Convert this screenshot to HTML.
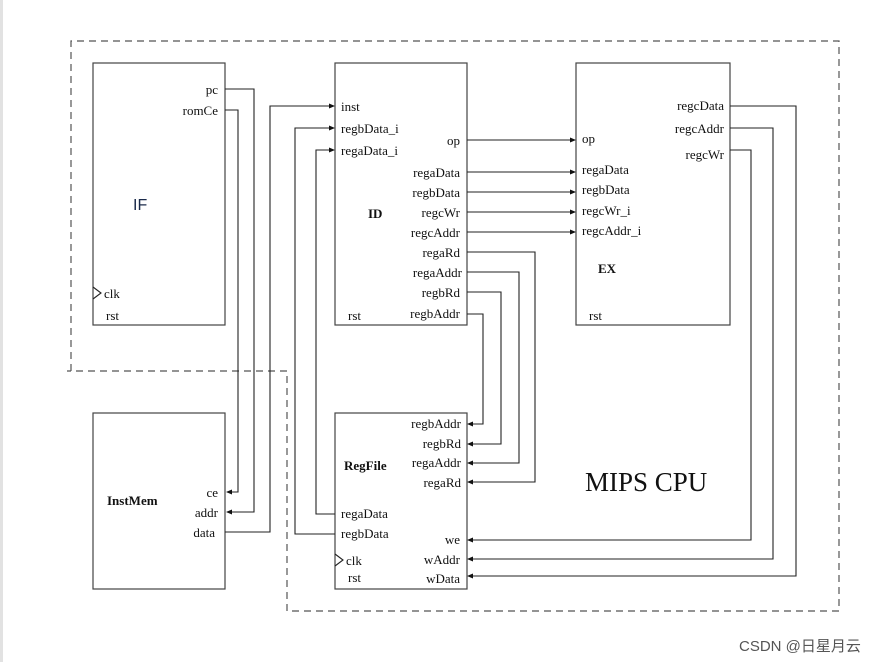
<!DOCTYPE html>
<html><head><meta charset="utf-8"><style>
body{margin:0;background:#fff;width:889px;height:662px;overflow:hidden}
svg{display:block}
text{font-family:"Liberation Serif",serif;font-size:13px;fill:#111}
.r{text-anchor:end}
</style></head><body>
<svg width="889" height="662" viewBox="0 0 889 662">
<defs><marker id="a" markerWidth="6" markerHeight="6" refX="5" refY="3" orient="auto" markerUnits="userSpaceOnUse"><path d="M0,0.5 L6,3 L0,5.5z" fill="#111"/></marker></defs>
<rect x="0" y="0" width="3" height="662" fill="#e2e2e2"/>
<g fill="none" stroke="#555" stroke-width="1.2" stroke-dasharray="7,5">
<path d="M71,371 V41 H839 V611 H287 V371 H67"/>
</g>
<g fill="#fff" stroke="#444" stroke-width="1.2">
<rect x="93" y="63" width="132" height="262"/>
<rect x="335" y="63" width="132" height="262"/>
<rect x="576" y="63" width="154" height="262"/>
<rect x="93" y="413" width="132" height="176"/>
<rect x="335" y="413" width="132" height="176"/>
</g>
<g fill="none" stroke="#222" stroke-width="1.1">
<path d="M225,89 H254 V512 H227" marker-end="url(#a)"/>
<path d="M225,110 H238 V492 H227" marker-end="url(#a)"/>
<path d="M225,532 H270 V106 H334" marker-end="url(#a)"/>
<path d="M335,534 H295 V128 H334" marker-end="url(#a)"/>
<path d="M335,514 H316 V150 H334" marker-end="url(#a)"/>
<path d="M467,140 H575" marker-end="url(#a)"/>
<path d="M467,172 H575" marker-end="url(#a)"/>
<path d="M467,192 H575" marker-end="url(#a)"/>
<path d="M467,212 H575" marker-end="url(#a)"/>
<path d="M467,232 H575" marker-end="url(#a)"/>
<path d="M467,252 H535 V482 H468" marker-end="url(#a)"/>
<path d="M467,272 H519 V463 H468" marker-end="url(#a)"/>
<path d="M467,292 H501 V444 H468" marker-end="url(#a)"/>
<path d="M467,314 H483 V424 H468" marker-end="url(#a)"/>
<path d="M730,106 H796 V576 H468" marker-end="url(#a)"/>
<path d="M730,128 H773 V559 H468" marker-end="url(#a)"/>
<path d="M730,150 H751 V540 H468" marker-end="url(#a)"/>
<path d="M93,287 L101,293 L93,299"/>
<path d="M335,554 L343,560 L335,566"/>
</g>
<text x="133" y="210" style="font-family:'Liberation Sans',sans-serif;font-size:16px;fill:#1a2a4a">IF</text>
<text class="r" x="218" y="94">pc</text>
<text class="r" x="218" y="115">romCe</text>
<text x="104" y="298">clk</text>
<text x="106" y="320">rst</text>
<text x="107" y="505" style="font-weight:bold">InstMem</text>
<text class="r" x="218" y="497">ce</text>
<text class="r" x="218" y="517">addr</text>
<text class="r" x="215" y="537">data</text>
<text x="341" y="111">inst</text>
<text x="341" y="133">regbData_i</text>
<text x="341" y="155">regaData_i</text>
<text class="r" x="460" y="145">op</text>
<text class="r" x="460" y="177">regaData</text>
<text class="r" x="460" y="197">regbData</text>
<text class="r" x="460" y="217">regcWr</text>
<text class="r" x="460" y="237">regcAddr</text>
<text class="r" x="460" y="257">regaRd</text>
<text class="r" x="462" y="277">regaAddr</text>
<text class="r" x="460" y="297">regbRd</text>
<text class="r" x="460" y="318">regbAddr</text>
<text x="368" y="218" style="font-weight:bold">ID</text>
<text x="348" y="320">rst</text>
<text x="582" y="143">op</text>
<text x="582" y="174">regaData</text>
<text x="582" y="194">regbData</text>
<text x="582" y="215">regcWr_i</text>
<text x="582" y="235">regcAddr_i</text>
<text x="598" y="273" style="font-weight:bold">EX</text>
<text x="589" y="320">rst</text>
<text class="r" x="724" y="110">regcData</text>
<text class="r" x="724" y="133">regcAddr</text>
<text class="r" x="724" y="159">regcWr</text>
<text class="r" x="461" y="428">regbAddr</text>
<text class="r" x="461" y="448">regbRd</text>
<text class="r" x="461" y="467">regaAddr</text>
<text class="r" x="461" y="487">regaRd</text>
<text x="344" y="470" style="font-weight:bold">RegFile</text>
<text x="341" y="518">regaData</text>
<text x="341" y="538">regbData</text>
<text class="r" x="460" y="544">we</text>
<text class="r" x="460" y="564">wAddr</text>
<text class="r" x="460" y="583">wData</text>
<text x="346" y="565">clk</text>
<text x="348" y="582">rst</text>
<text x="585" y="491" style="font-size:27px">MIPS CPU</text>
<text x="739" y="651" style="font-family:'Liberation Sans','Noto Sans CJK SC',sans-serif;font-size:15px;fill:#555">CSDN @日星月云</text>
</svg>
</body></html>
